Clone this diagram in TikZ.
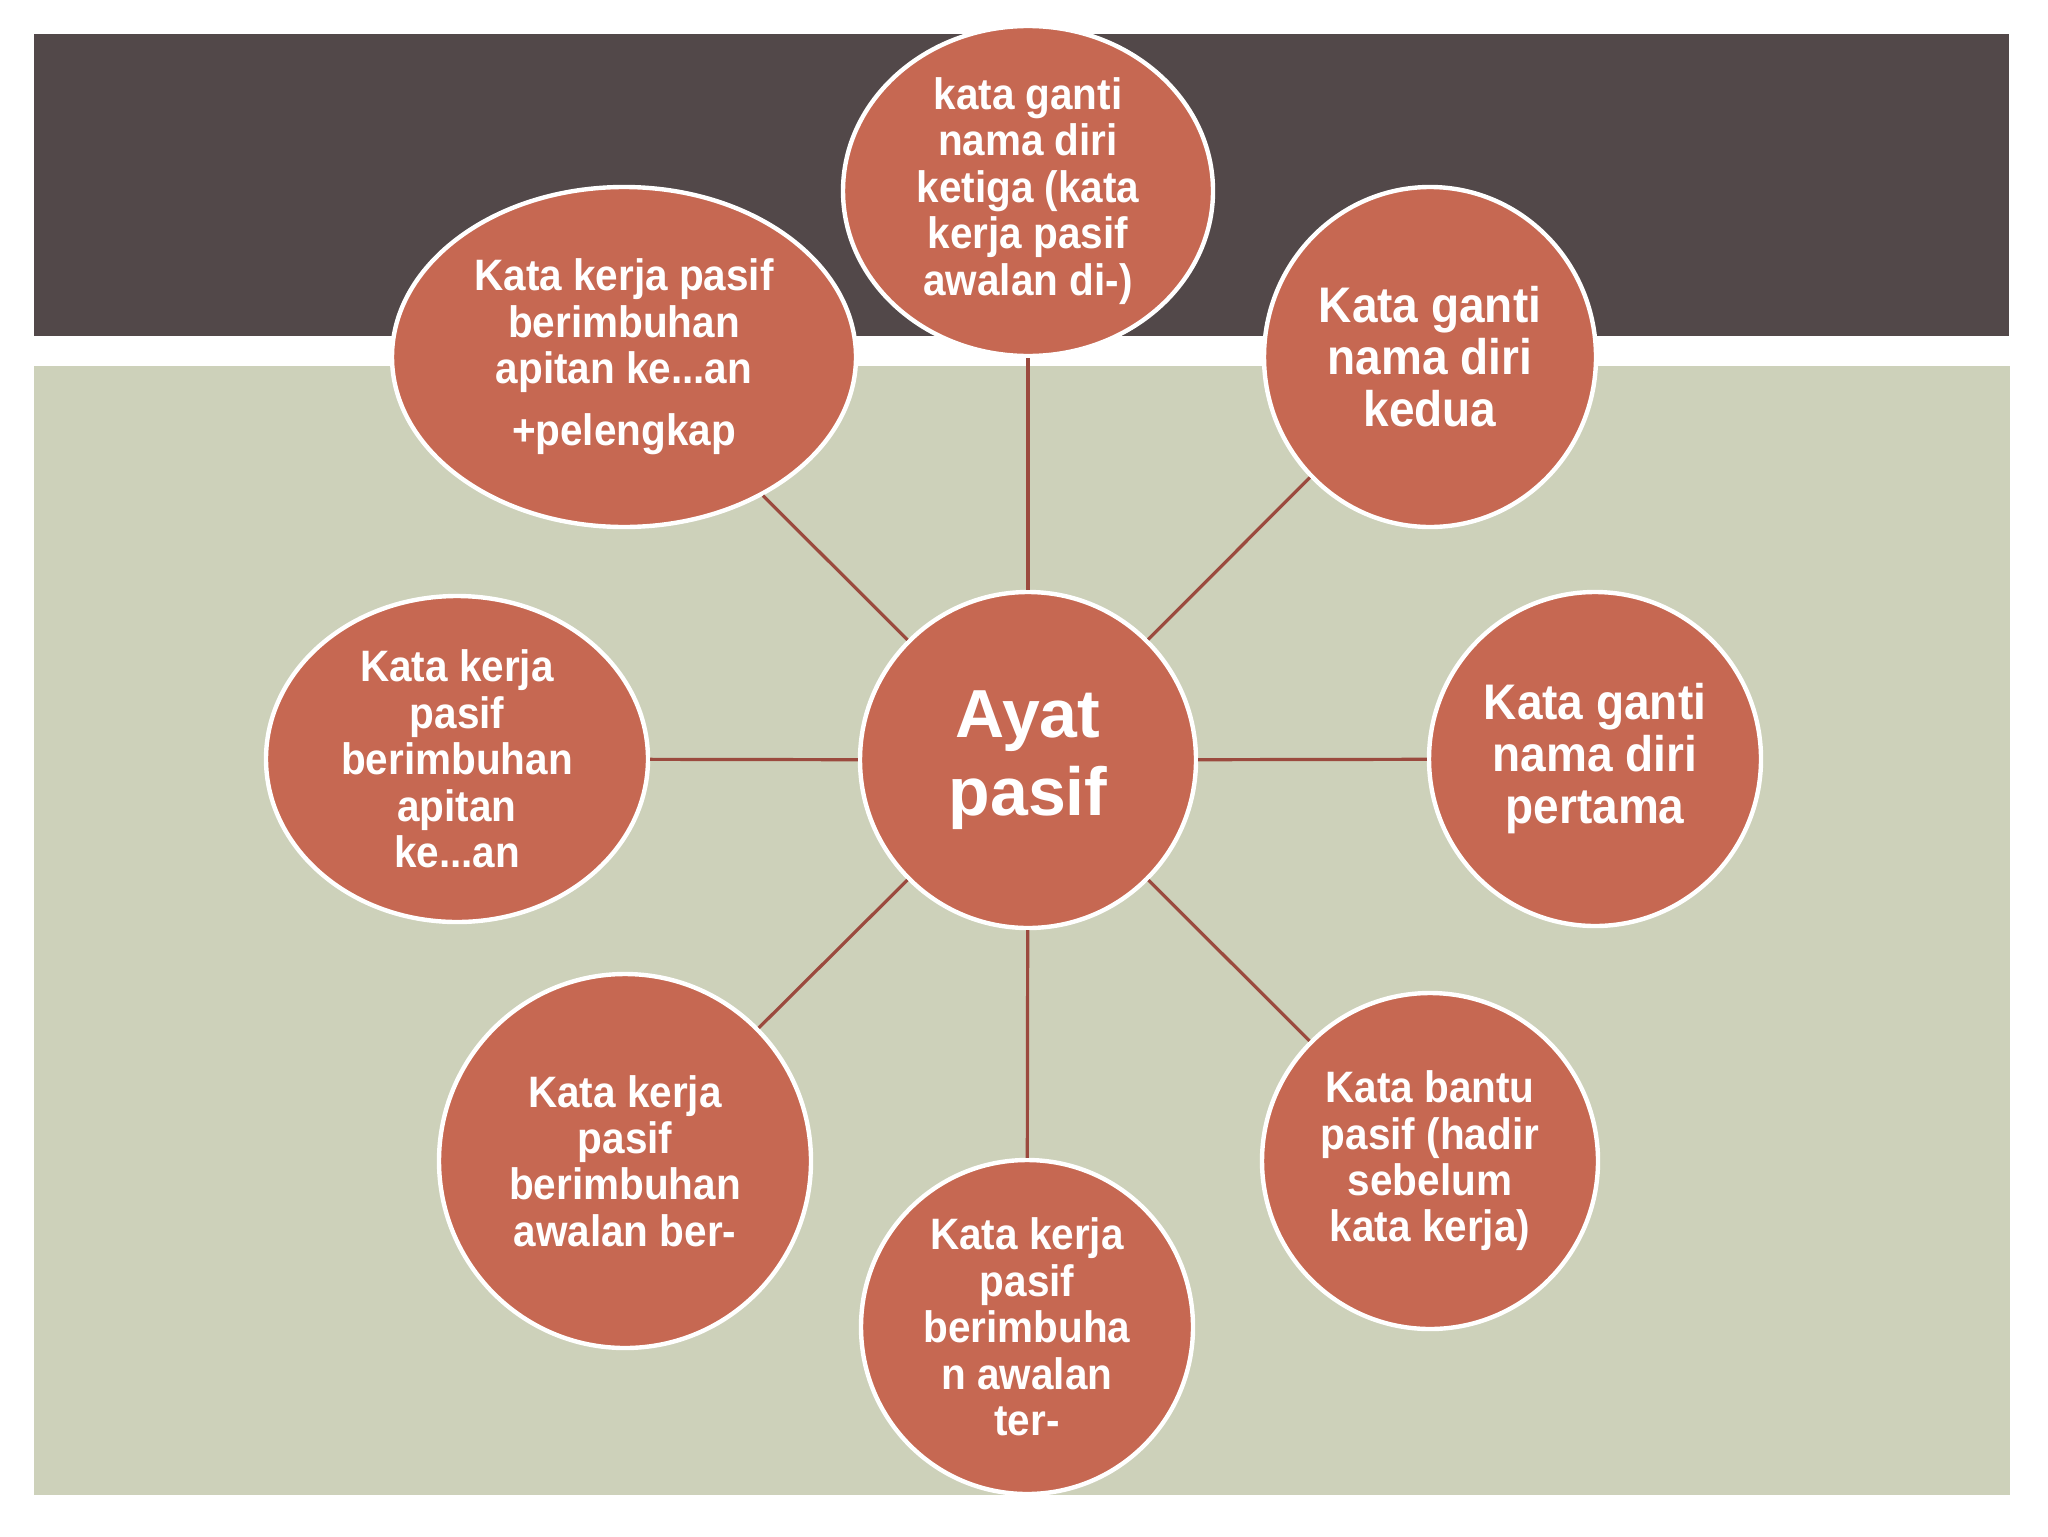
\documentclass[tikz,border=0pt]{standalone}
\usepackage{fontspec}
\usetikzlibrary{shapes.geometric}
\newfontfamily\isifont{Liberation Sans Bold}[FakeStretch=0.92]
\newfontfamily\pusatfont{Liberation Sans Bold}
\definecolor{latar}{RGB}{82,72,73}
\definecolor{hijau}{RGB}{205,209,186}
\definecolor{bata}{RGB}{198,104,82}
\definecolor{garis}{RGB}{155,74,62}
\begin{document}
\begin{tikzpicture}[x=0.5pt,y=0.5pt,yscale=-1,xscale=1,
  bulat/.style={ellipse,draw=white,line width=2.2pt,fill=bata,text=white,inner sep=0pt,align=center,font=\isifont\fontsize{22}{23.2}\selectfont},
  besar/.style={font=\isifont\fontsize{25}{26}\selectfont},
  cabang/.style={draw=garis,line width=1.6pt}]
\useasboundingbox (0,0) rectangle (2048,1536);

%Shape: Rectangle [background bands]
\fill[latar] (34,34) rectangle (2009,336);
\fill[hijau] (34,366) rectangle (2010,1495);

%Shape: Ellipse [centre]
\node[bulat,minimum width=168pt,minimum height=168pt,font=\pusatfont\fontsize{34}{39}\selectfont] (pusat) at (1028,760) {Ayat\\pasif};

%Shape: Ellipse [outer ring]
\node[bulat,minimum width=185pt,minimum height=165pt] (atas) at (1028,191) {kata ganti\\nama diri\\ketiga (kata\\kerja pasif\\awalan di-)};
\node[bulat,minimum width=232pt,minimum height=170pt] (kiriatas) at (624,357) {Kata kerja pasif\\berimbuhan\\apitan ke...an\\[8pt]+pelengkap};
\node[bulat,besar,minimum width=166pt,minimum height=170pt] (kananatas) at (1430,357) {Kata ganti\\nama diri\\kedua};
\node[bulat,minimum width=191pt,minimum height=163pt] (kiri) at (457,759) {Kata kerja\\pasif\\berimbuhan\\apitan\\ke...an};
\node[bulat,besar,minimum width=166pt,minimum height=167pt] (kanan) at (1595,759) {Kata ganti\\nama diri\\pertama};
\node[bulat,minimum width=186pt,minimum height=187pt] (kiribawah) at (625,1161) {Kata kerja\\pasif\\berimbuhan\\awalan ber-};
\node[bulat,minimum width=166pt,minimum height=167pt] (bawah) at (1027,1327) {Kata kerja\\pasif\\berimbuha\\n awalan\\ter-};
\node[bulat,minimum width=168pt,minimum height=168pt] (kananbawah) at (1430,1161) {Kata bantu\\pasif (hadir\\sebelum\\kata kerja)};

%Straight Lines
\draw[cabang] (pusat) -- (atas);
\draw[cabang] (pusat) -- (kiriatas);
\draw[cabang] (pusat) -- (kananatas);
\draw[cabang] (pusat) -- (kiri);
\draw[cabang] (pusat) -- (kanan);
\draw[cabang] (pusat) -- (kiribawah);
\draw[cabang] (pusat) -- (bawah);
\draw[cabang] (pusat) -- (kananbawah);

\end{tikzpicture}
\end{document}
